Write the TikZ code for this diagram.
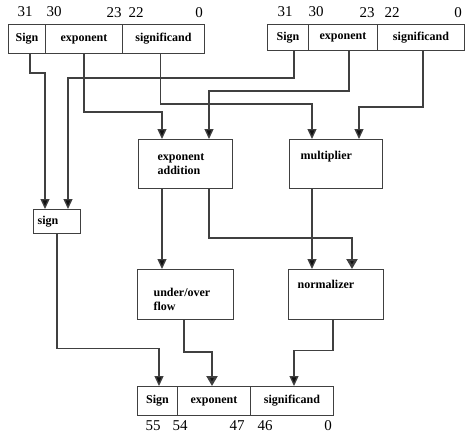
\documentclass[tikz,border=0pt]{standalone}
\usepackage{fontspec}
\setmainfont{Liberation Serif}
\usepackage{xcolor}
\usepackage{tikz}
\usetikzlibrary{arrows.meta}
\definecolor{ink}{HTML}{404040}
\definecolor{tip}{HTML}{111111}
\tikzset{
  field/.style={draw=ink, line width=1pt, inner sep=0pt, anchor=north west, font=\bfseries\fontsize{12}{13}\selectfont},
  unit/.style={draw=ink, line width=1.2pt, anchor=north west, align=left, inner ysep=0pt, font=\bfseries\fontsize{12}{14}\selectfont},
  bit/.style={font=\fontsize{15}{15}\selectfont, inner sep=0pt},
  wire/.style={draw=ink, line width=1.3pt},
  arr/.style={wire, -{Triangle[length=10pt,width=9pt,fill=tip]}},
  arrb/.style={draw=ink, line width=2.2pt, -{Triangle[length=10pt,width=11pt,fill=tip]}},
}
\begin{document}
\begin{tikzpicture}[x=1pt,y=-1pt]
  \useasboundingbox (0,0) rectangle (474,439);
  % first operand
  \node[field, minimum width=37pt, minimum height=29pt] (aS) at (8,24) {Sign};
  \node[field, minimum width=77pt, minimum height=29pt] (aE) at (45,24) {exponent};
  \node[field, minimum width=82pt, minimum height=29pt] (aM) at (122,24) {significand};
  \node[bit] (a31) at (25,12) {31};
  \node[bit] (a30) at (54,12) {30};
  \node[bit] (a23) at (114,13) {23};
  \node[bit] (a22) at (136,13) {22};
  \node[bit] (a0) at (199,13) {0};
  % second operand
  \node[field, minimum width=41pt, minimum height=26pt] (bS) at (267,24) {Sign};
  \node[field, minimum width=69pt, minimum height=26pt] (bE) at (308,24) {exponent};
  \node[field, minimum width=87pt, minimum height=26pt] (bM) at (377,24) {significand};
  \node[bit] (b31) at (285,12) {31};
  \node[bit] (b30) at (316,12) {30};
  \node[bit] (b23) at (367,13) {23};
  \node[bit] (b22) at (392,13) {22};
  \node[bit] (b0) at (458,13) {0};
  % processing units
  \node[unit, minimum width=47pt, minimum height=24pt, text width=39pt, inner xsep=4pt] (sg) at (33,209) {sign};
  \node[unit, minimum width=94pt, minimum height=49pt, text width=56pt, inner xsep=19pt] (ea) at (138,139) {exponent\\addition};
  \node[unit, minimum width=93pt, minimum height=49pt, text width=71pt, inner xsep=11pt, text depth=18pt] (mu) at (289,139) {multiplier};
  \node[unit, minimum width=96pt, minimum height=50pt, text width=64pt, inner xsep=16pt, text height=17pt] (uo) at (137,269) {under/over\\flow};
  \node[unit, minimum width=95pt, minimum height=50pt, text width=77pt, inner xsep=9pt, text depth=20pt] (no) at (288,269) {normalizer};
  % result
  \node[field, minimum width=40pt, minimum height=29pt] (cS) at (137,386) {Sign};
  \node[field, minimum width=73pt, minimum height=29pt] (cE) at (177,386) {exponent};
  \node[field, minimum width=83pt, minimum height=29pt] (cM) at (250,386) {significand};
  \node[bit] (c55) at (153,426) {55};
  \node[bit] (c54) at (180,426) {54};
  \node[bit] (c47) at (237,426) {47};
  \node[bit] (c46) at (265,426) {46};
  \node[bit] (c0) at (328,426) {0};
  % operand wiring
  \draw[arr] ([xshift=3pt]aS.south) -- ++(0,19) -| ([xshift=12pt]sg.north west);
  \draw[arr] (aE.south) -- ++(0,58) -| ([xshift=24pt]ea.north west);
  \draw[arr] ([xshift=-3pt]aM.south) -- ++(0,50) -| ([xshift=23pt]mu.north west);
  \draw[arr] ([xshift=6pt]bS.south) -- ++(0,27) -| ([xshift=35pt]sg.north west);
  \draw[arr] ([xshift=6pt]bE.south) -- ++(0,40) -| ([xshift=71pt]ea.north west);
  \draw[arr] ([xshift=2pt]bM.south) -- ++(0,56) -| ([xshift=70pt]mu.north west);
  % internal wiring
  \draw[arr] ([xshift=24pt]ea.south west) -- ([xshift=24pt]ea.south west |- uo.north);
  \draw[arrb] ([xshift=71pt]ea.south west) -- ++(0,49) -| ([xshift=64pt]no.north west);
  \draw[arr] ([xshift=23pt]mu.south west) -- ([xshift=23pt]mu.south west |- no.north);
  % result wiring
  \draw[arr] (sg.south) -- ++(0,114) -| ([xshift=22pt]cS.north west);
  \draw[arrb] ([xshift=-2pt]uo.south) -- ++(0,32) -| ([xshift=35pt]cE.north west);
  \draw[arr] ([xshift=-3pt]no.south) -- ++(0,30) -| ([xshift=44pt]cM.north west);
\end{tikzpicture}
\end{document}
